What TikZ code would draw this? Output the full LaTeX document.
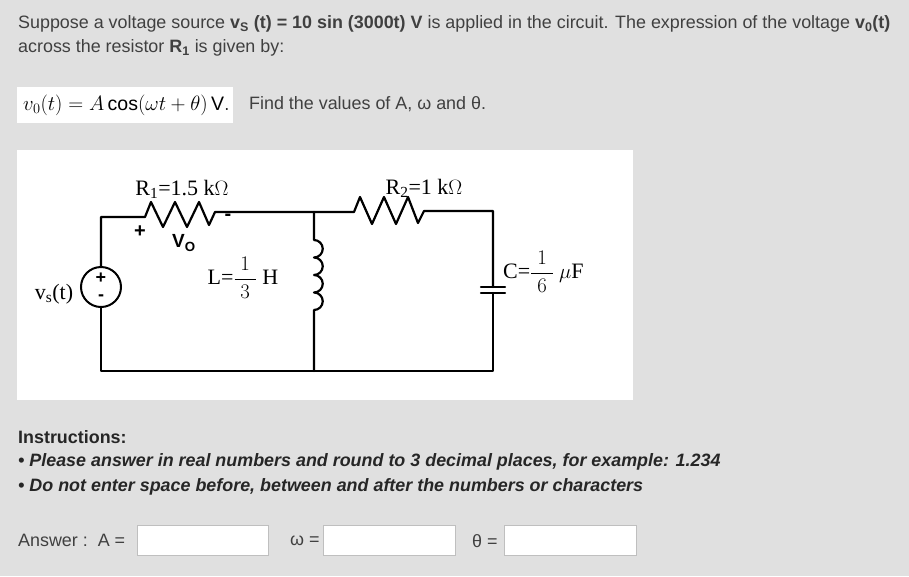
\documentclass[tikz,border=0pt]{standalone}
\usepackage{fontspec}
\setmainfont{Liberation Sans}
\newfontfamily\ckt{Liberation Serif}
\begin{document}
\begin{tikzpicture}[x=1pt,y=-1pt,
  txt/.style={anchor=west,inner sep=0,font=\fontsize{17.9}{20}\selectfont,text=black!75},
  btxt/.style={txt,font=\bfseries\itshape\fontsize{17.9}{20}\selectfont,text=black!85},
  lab/.style={inner sep=0,font=\ckt\fontsize{22}{24}\selectfont},
  wire/.style={line width=2.2pt,line cap=round,line join=round},
  inbox/.style={fill=white,draw=black!25,line width=0.8pt}]
\fill[black!12!white] (0,0) rectangle (909,576);
\useasboundingbox (0,0) rectangle (909,576);
\node[txt] (l1) at (18,24) {Suppose a voltage source \textbf{v\textsubscript{S} (t) = 10 sin (3000t) V} is applied in the circuit. The expression of the voltage \textbf{v\textsubscript{0}(t)}};
\node[txt] (l2) at (18,48) {across the resistor \textbf{R\textsubscript{1}} is given by:};
\fill[white] (17,87) rectangle (233,123);
\node[inner sep=0,anchor=west,font=\fontsize{19.5}{21}\selectfont] (f) at (23,105) {$v_0(t)=A\cos(\omega t+\theta)\,\mathrm{V}.$};
\node[txt] (find) at (249,104) {Find the values of A, ω and θ.};
% circuit panel
\fill[white] (17,150) rectangle (633,400);
\coordinate (tl) at (101,217); \coordinate (r1a) at (145,217); \coordinate (r1b) at (215,212);
\coordinate (j) at (314,212); \coordinate (r2a) at (354,212); \coordinate (r2b) at (424,211);
\coordinate (tr) at (493,211); \coordinate (bl) at (101,371); \coordinate (bj) at (314,371); \coordinate (br) at (493,371);
\coordinate (ind1) at (314,240); \coordinate (ind2) at (314,310);
\coordinate (c1) at (493,287); \coordinate (c2) at (493,293);
\node[circle,draw,line width=2pt,minimum size=40pt,inner sep=0] (src) at (101,287) {};
\node[inner sep=0,font=\bfseries\fontsize{18}{18}\selectfont] (sp) at (101,278) {+};
\node[inner sep=0,font=\bfseries\fontsize{18}{18}\selectfont] (sm) at (101,298) {-};
\draw[wire] (src.north) -- (tl) -- (r1a) -- (151,202) -- (163,227) -- (175,202) -- (187,227) -- (199,202) -- (209,225) -- (r1b) -- (j) -- (r2a)
  -- (360,197) -- (372,224) -- (384,197) -- (396,224) -- (408,197) -- (418,223) -- (r2b) -- (tr) -- (c1);
\draw[wire] (c1) ++(-12,0) -- ++(24,0);
\draw[wire] (c2) ++(-12,0) -- ++(24,0);
\draw[wire] (c2) -- (br) -- (bl) -- (src.south);
\draw[wire] (j) -- (ind1) arc(-90:90:8.75) arc(-90:90:8.75) arc(-90:90:8.75) arc(-90:90:8.75) -- (ind2) -- (bj);
\node[lab] (R1) at (182,189) {R\textsubscript{1}=1.5 k$\Omega$};
\node[lab] (R2) at (424,188) {R\textsubscript{2}=1 k$\Omega$};
\node[inner sep=0,font=\bfseries\fontsize{20}{20}\selectfont] (vp) at (140,232) {+};
\node[inner sep=0,font=\bfseries\fontsize{20}{20}\selectfont] (vm) at (228,217) {-};
\node[inner sep=0,font=\bfseries\fontsize{19}{19}\selectfont] (vo) at (184,243) {V\textsubscript{O}};
\node[lab] (L) at (243,278) {L=$\displaystyle\frac{\;1\;}{3}$ H};
\node[lab,anchor=west] (C) at (503,272) {C=$\displaystyle\frac{\;1\;}{6}$ $\mu$F};
\node[lab] (vs) at (54,294) {v\textsubscript{s}(t)};
% instructions
\node[txt,font=\bfseries\fontsize{17.9}{20}\selectfont,text=black!85] (ins) at (18,437) {Instructions:};
\node[btxt] (b1) at (18,462) {• Please answer in real numbers and round to 3 decimal places, for example: 1.234};
\node[btxt] (b2) at (18,487) {• Do not enter space before, between and after the numbers or characters};
\node[txt] (ans) at (18,540) {Answer :\ \ A =};
\draw[inbox] (137,525) rectangle (268,555);
\node[txt] (w) at (290,541) {ω =};
\draw[inbox] (323,525) rectangle (455,555);
\node[txt] (th) at (472,541) {θ =};
\draw[inbox] (504,525) rectangle (636,555);
\end{tikzpicture}
\end{document}
